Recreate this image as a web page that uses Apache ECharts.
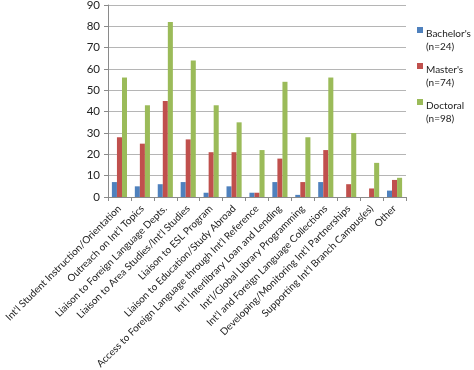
<!DOCTYPE html>
<html>
<head>
<meta charset="utf-8">
<script src="https://cdn.jsdelivr.net/npm/echarts@6/dist/echarts.min.js"></script>
<style>
html, body { margin: 0; padding: 0; background: #fff; }
#chart { width: 474px; height: 370px; }
</style>
</head>
<body>
<div id="chart"></div>
<script>
// categories and values
var categories = [
    "Int'l Student Instruction/Orientation",
    "Outreach on Int'l Topics",
    "Liaison to Foreign Language Depts.",
    "Liaison to Area Studies/Int'l Studies",
    "Liaison to ESL Program",
    "Liaison to Education/Study Abroad",
    "Access to Foreign Language through Int'l Reference",
    "Int'l Interlibrary Loan and Lending",
    "Int'l/Global Library Programming",
    "Int'l and Foreign Language Collections",
    "Developing/Monitoring Int'l Partnerships",
    "Supporting Int'l Branch Campus(es)",
    "Other"
];
var seriesNames = ["Bachelor's\n(n=24)", "Master's\n(n=74)", "Doctoral\n(n=98)"];
var bachelors = [7, 5, 6, 7, 2, 5, 2, 7, 1, 7, 0, 0, 3];
var masters   = [28, 25, 45, 27, 21, 21, 2, 18, 7, 22, 6, 4, 8];
var doctoral  = [56, 43, 82, 64, 43, 35, 22, 54, 28, 56, 30, 16, 9];
var colors = ['#4f81bd', '#c0504d', '#9bbb59'];

var chart = echarts.init(document.getElementById('chart'));

function makeBar(name, data, color) {
    return {
        name: name,
        type: 'bar',
        data: data,
        barGap: 0,
        barCategoryGap: '34%',
        itemStyle: { color: color },
        emphasis: { disabled: true }
    };
}

// small square at the top of a 6x26 box, so it sits beside the first line
var legendIcon = 'path://M0,0L6,0L6,6L0,6Z M0,25.9L0.05,25.9L0.05,26L0,26Z';

var option = {
    animation: false,
    textStyle: { fontFamily: 'Lato' },
    grid: {
        left: 108,
        right: 68,
        top: 5,
        bottom: 173,
        outerBoundsMode: 'none'
    },
    legend: {
        orient: 'vertical',
        left: 417,
        top: 27,
        padding: 0,
        itemWidth: 6,
        itemHeight: 26,
        itemGap: 10,
        icon: legendIcon,
        textStyle: {
            color: '#222',
            fontSize: 10,
            lineHeight: 13,
            padding: [0, 0, 0, -2]
        },
        data: seriesNames
    },
    xAxis: {
        type: 'category',
        data: categories,
        axisLine: { lineStyle: { color: '#8a8a8a' } },
        axisTick: { show: true, length: 4, lineStyle: { color: '#8a8a8a' } },
        axisLabel: {
            interval: 0,
            rotate: 45,
            fontSize: 10,
            color: '#222',
            margin: 10
        }
    },
    yAxis: {
        type: 'value',
        min: 0,
        max: 90,
        interval: 10,
        axisLine: { show: true, lineStyle: { color: '#8a8a8a' } },
        axisTick: { show: true, length: 4, lineStyle: { color: '#8a8a8a' } },
        axisLabel: { fontSize: 11.5, color: '#222', margin: 8 },
        splitLine: { lineStyle: { color: '#b5b5b5' } }
    },
    series: [
        makeBar(seriesNames[0], bachelors, colors[0]),
        makeBar(seriesNames[1], masters, colors[1]),
        makeBar(seriesNames[2], doctoral, colors[2])
    ]
};

chart.setOption(option);

window.onresize = function () {
    chart.resize();
};
</script>
</body>
</html>
